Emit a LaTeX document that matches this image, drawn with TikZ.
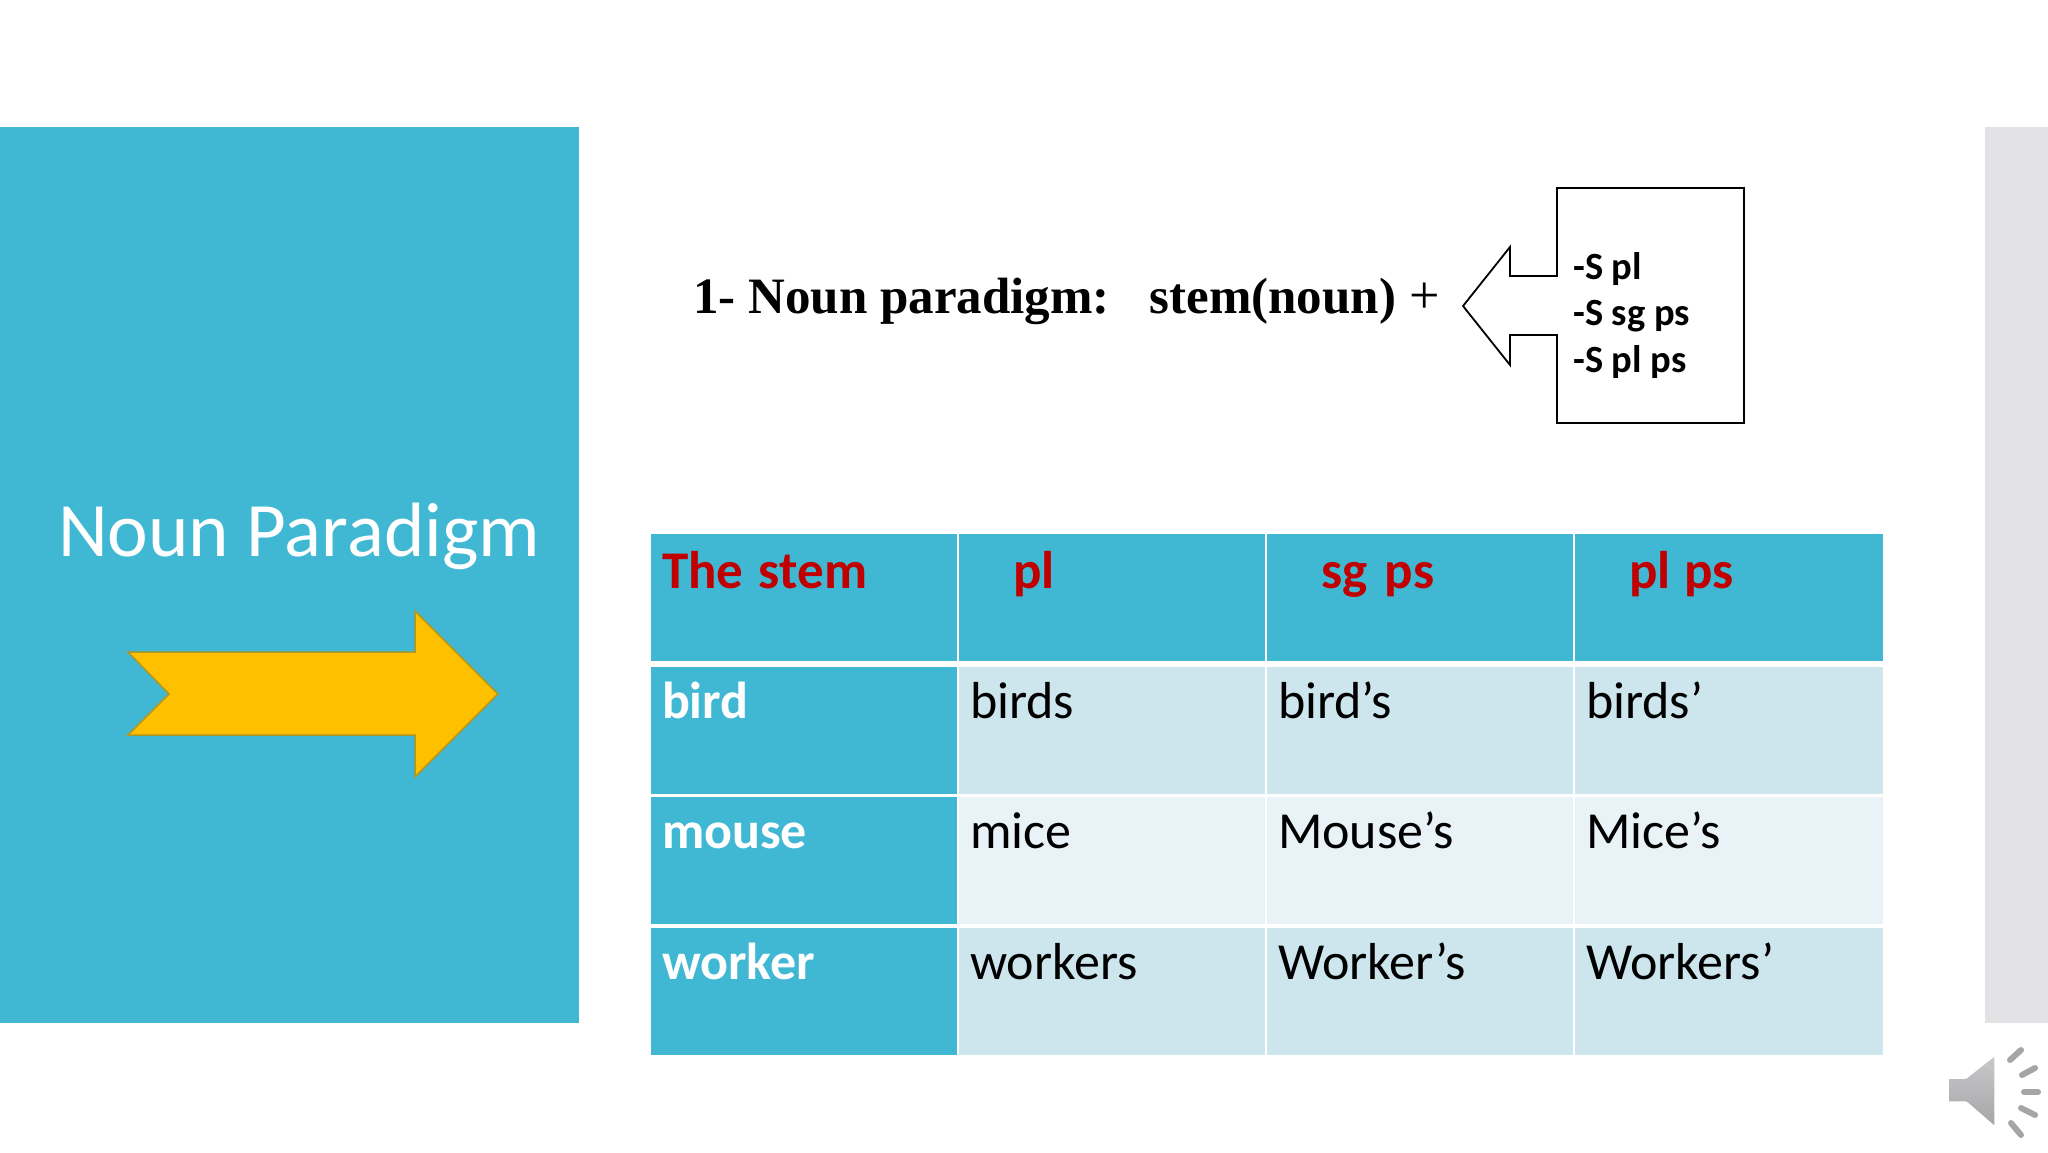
\documentclass[tikz,border=0pt]{standalone}
\usepackage{fontspec}
\setmainfont{Carlito}
\newfontfamily\serifbody{Liberation Serif}
\definecolor{panelblue}{RGB}{64,184,212}
\definecolor{rowdark}{RGB}{205,229,236}
\definecolor{rowlight}{RGB}{232,242,247}
\definecolor{stemred}{RGB}{192,0,0}
\definecolor{arrowgold}{RGB}{255,192,0}
\definecolor{arrowedge}{RGB}{178,150,30}
\definecolor{sidegrey}{RGB}{227,227,229}
\definecolor{speakergrey}{RGB}{165,165,168}
\tikzset{
	cell/.style={anchor=north west, draw=white, line width=2pt, inner sep=0pt, inner xsep=12pt, text width=286pt,
			minimum height=129pt, text height=52pt, text depth=77pt, align=left, font=\fontsize{52}{52}\selectfont},
	headcell/.style={cell, fill=panelblue, text=stemred, text height=55pt, text depth=74pt,
			font=\fontsize{53}{53}\selectfont\bfseries},
	stemcell/.style={cell, fill=panelblue, text=white, font=\fontsize{52}{52}\selectfont\bfseries},
	wave/.style={line width=6pt, line cap=round, speakergrey}
}
\begin{document}
\begin{tikzpicture}[x=1pt, y=-1pt]
	\useasboundingbox (0, 0) rectangle (2048, 1152);
	\fill[panelblue] (0, 127) rectangle (579, 1023);
	\fill[sidegrey] (1985, 127) rectangle (2048, 1023);
	\node (title) at (299, 536) {\fontsize{77}{77}\selectfont\color{white} Noun Paradigm};
	\draw[fill=arrowgold, draw=arrowedge, line width=1.5pt] (128, 652) -- (415, 652) -- (415, 611) -- (498, 694)
		-- (415, 777) -- (415, 735) -- (128, 735) -- (169, 694) -- cycle;
	% formula and box
	\node[anchor=base west, inner sep=0pt] (formula) at (693, 313)
		{\serifbody\fontsize{51}{51}\selectfont\textbf{1- Noun paradigm:}\hspace{40pt}\textbf{stem(noun)} \fontsize{54}{54}\selectfont+};
	\draw[line width=1.8pt, line join=miter] (1557, 188) -- (1744, 188) -- (1744, 423) -- (1557, 423) -- (1557, 335)
		-- (1510, 335) -- (1510, 365) -- (1463, 306) -- (1510, 247) -- (1510, 276) -- (1557, 276) -- cycle;
	\node[anchor=north west, inner sep=0pt, align=left, font=\fontsize{38.5}{46.5}\selectfont\bfseries] (suffixes) at (1573, 252)
		{-S pl\\-S sg ps\\-S pl ps};
	% table
	\foreach \n/\x/\t in {stem/649/The\hspace{-2pt} stem, pl/957/\hspace{43pt}pl, sgps/1265/\hspace{43pt}sg ps, plps/1573/\hspace{43pt}pl\hspace{-4pt} ps}
		\node[headcell] (head-\n) at (\x, 532) {\t};
	\foreach \r/\y/\fillc/\a/\b/\c/\d in {bird/665/rowdark/bird/birds/bird’s/birds’,
			mouse/795/rowlight/mouse/mice/Mouse’s/Mice’s,
			worker/926/rowdark/worker/workers/Worker’s/Workers’} {
			\node[stemcell] (\r-stem) at (649, \y) {\a};
			\node[cell, fill=\fillc] (\r-pl) at (957, \y) {\b};
			\node[cell, fill=\fillc] (\r-sg) at (1265, \y) {\c};
			\node[cell, fill=\fillc] (\r-ps) at (1573, \y) {\d};
		}
	% speaker
	\shade[top color=speakergrey!60, bottom color=speakergrey, draw=white, line width=1.5pt, rounded corners=1pt]
		(1948, 1078) -- (1966, 1078) -- (1995, 1055) -- (1995, 1127) -- (1966, 1102) -- (1948, 1102) -- cycle;
	\foreach \xa/\ya/\xb/\yb in {2010/1060/2021/1050, 2022/1075/2035/1068, 2024/1092/2038/1092, 2021/1108/2035/1115, 2011/1123/2021/1135}
		\draw[wave] (\xa, \ya) -- (\xb, \yb);
\end{tikzpicture}
\end{document}
